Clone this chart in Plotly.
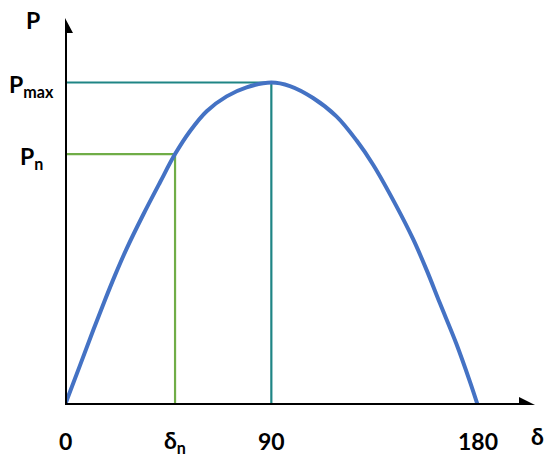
import plotly.graph_objects as go

# Power-angle curve (P in units of Pmax, delta in degrees)
delta = [0, 6.5, 12.3, 17.4, 21.8, 26.9, 34.1, 41.4, 48, 54.5, 61.8, 70.5, 79.2, 90,
         98.1, 108.2, 118.4, 127.2, 134.4, 144.6, 151.8, 157.7, 163.5, 170.7, 176.5, 180]
power = [0, 0.122, 0.232, 0.325, 0.402, 0.485, 0.59, 0.69, 0.778, 0.849, 0.911, 0.957, 0.985, 1.0,
         0.989, 0.952, 0.895, 0.82, 0.745, 0.616, 0.515, 0.419, 0.316, 0.19, 0.075, 0]

p_max = 1.0
delta_max = 90
p_n = 0.778
delta_n = 48

x_tick_vals = [0, delta_n, 90, 180]
x_tick_text = ["0", "δ<sub>n</sub>", "90", "180"]
y_label_vals = [p_max, p_n]
y_label_text = ["P<sub>max</sub>", "P<sub>n</sub>"]

X_END = 205
Y_END = 1.2

FONT = "Lato"
fig = go.Figure()

# reference lines
fig.add_trace(go.Scatter(x=[0, delta_max, delta_max], y=[p_max, p_max, 0], mode="lines",
                         line=dict(color="#1F8585", width=2.2), hoverinfo="skip"))
fig.add_trace(go.Scatter(x=[0, delta_n, delta_n], y=[p_n, p_n, 0], mode="lines",
                         line=dict(color="#70AD47", width=2.2), hoverinfo="skip"))
# curve
fig.add_trace(go.Scatter(x=delta, y=power, mode="lines",
                         line=dict(color="#4472C4", width=4, shape="spline", smoothing=1.0),
                         hoverinfo="skip"))

shapes = [
    dict(type="line", xref="x", yref="y", x0=0, y0=0, x1=X_END - 3, y1=0,
         line=dict(color="black", width=4)),
    dict(type="line", xref="x", yref="y", x0=0, y0=0, x1=0, y1=Y_END - 0.02,
         line=dict(color="black", width=4)),
    dict(type="path", xref="x", yref="y", xsizemode="pixel", ysizemode="pixel",
         xanchor=X_END, yanchor=0, path="M 0 0 L -16 8 L -16 -8 Z",
         fillcolor="black", line=dict(width=0)),
    dict(type="path", xref="x", yref="y", xsizemode="pixel", ysizemode="pixel",
         xanchor=0, yanchor=Y_END, path="M 0 0 L -8 -15 L 8 -15 Z",
         fillcolor="black", line=dict(width=0)),
]

annotations = []
for v, t in zip(x_tick_vals, x_tick_text):
    annotations.append(dict(x=v, y=0, xref="x", yref="y", text="<b>" + t + "</b>",
                            showarrow=False, yanchor="middle", yshift=-36,
                            font=dict(family=FONT, size=23, color="black")))
for v, t in zip(y_label_vals, y_label_text):
    annotations.append(dict(x=0, y=v, xref="x", yref="y", text="<b>" + t + "</b>",
                            showarrow=False, xanchor="center", xshift=-34, yshift=-3,
                            font=dict(family=FONT, size=23, color="black")))
annotations.append(dict(x=0, y=Y_END, xref="x", yref="y", text="<b>P</b>", showarrow=False,
                        xanchor="center", xshift=-32, yshift=-2,
                        font=dict(family=FONT, size=23, color="black")))
annotations.append(dict(x=X_END, y=0, xref="x", yref="y", text="<b>δ</b>", showarrow=False,
                        xanchor="center", xshift=2, yshift=-31,
                        font=dict(family=FONT, size=23, color="black")))

fig.update_layout(
    width=550, height=457,
    margin=dict(l=65, r=15, t=18, b=52),
    paper_bgcolor="white", plot_bgcolor="white",
    showlegend=False,
    xaxis=dict(range=[0, X_END], showgrid=False, zeroline=False, showline=False,
               showticklabels=False, ticks=""),
    yaxis=dict(range=[0, Y_END], showgrid=False, zeroline=False, showline=False,
               showticklabels=False, ticks=""),
    shapes=shapes,
    annotations=annotations,
)

fig.write_html("out.html", config={"displayModeBar": False},
               post_script="document.body.style.margin='0';document.body.style.padding='0';")
